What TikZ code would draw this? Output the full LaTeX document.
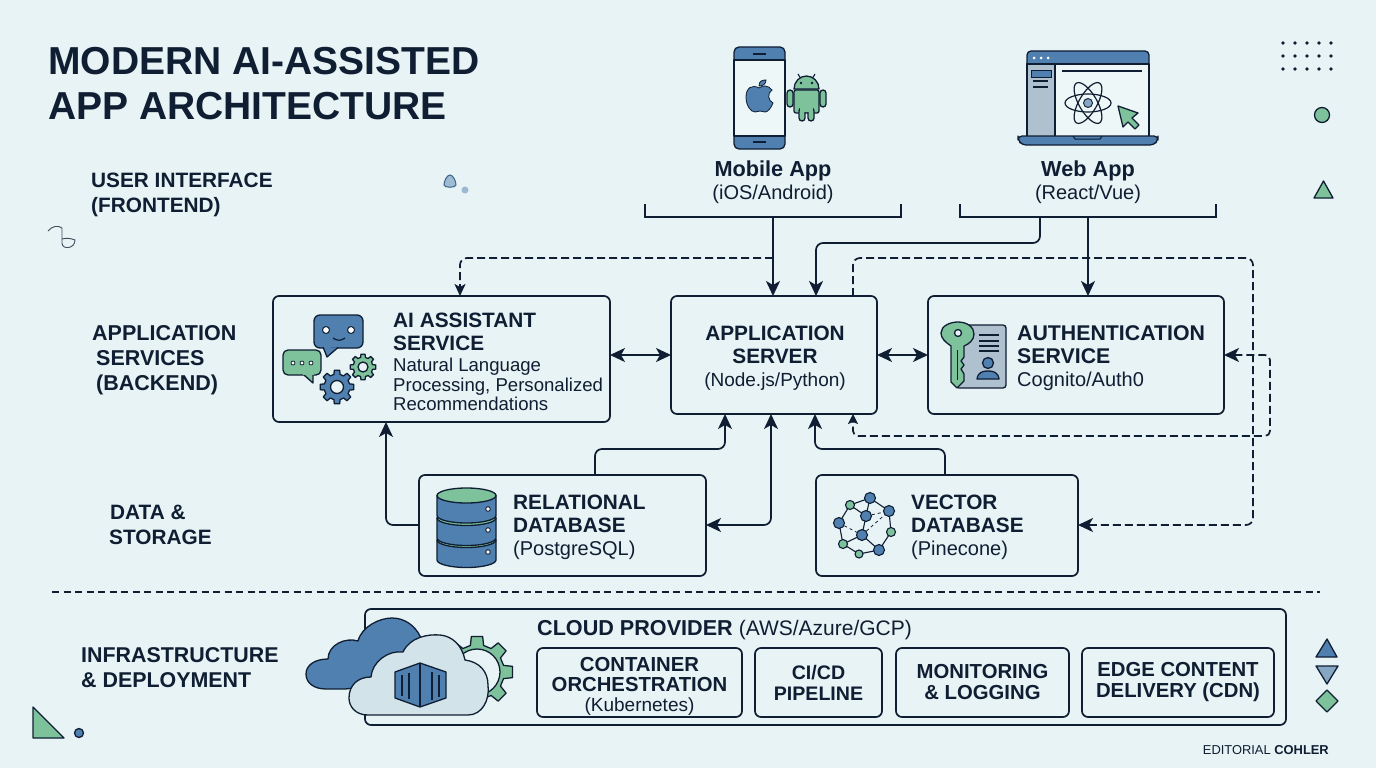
\documentclass[tikz,border=0pt]{standalone}
\usepackage{fontspec}
\setmainfont{Liberation Sans}
\usetikzlibrary{arrows.meta}

\definecolor{paper}{HTML}{E7F3F4}
\definecolor{navy}{HTML}{101E33}
\definecolor{iconblue}{HTML}{4F80B0}
\definecolor{icongreen}{HTML}{7DC29B}
\definecolor{iconpale}{HTML}{D3E3EA}
\definecolor{icongrey}{HTML}{AFC0CF}
\definecolor{iconmid}{HTML}{86A6C4}

\newcommand{\subline}[1]{{\fontsize{20}{22}\selectfont\mdseries #1}}

\tikzset{
  box/.style={draw=navy, line width=1.7pt, rounded corners=6pt, outer sep=0pt, inner sep=0pt, text=navy},
  head/.style={text=navy, inner sep=0pt, align=left, font=\fontsize{20.8}{24}\selectfont\bfseries},
  detail/.style={text=navy, inner sep=0pt, align=left, font=\fontsize{18.6}{19.5}\selectfont},
  subbox/.style={box, minimum height=69pt, align=center, font=\fontsize{20.3}{21}\selectfont\bfseries},
  client/.style={text=navy, inner sep=0pt, align=center, font=\fontsize{21.7}{24}\selectfont\bfseries},
  link/.style={draw=navy, line width=1.7pt, rounded corners=7pt, -{Stealth[length=15pt,width=14pt,inset=4pt]}},
  twoway/.style={link, {Stealth[length=15pt,width=14pt,inset=4pt]}-{Stealth[length=15pt,width=14pt,inset=4pt]}},
  dashlink/.style={link, dash pattern=on 8pt off 4pt},
  icon/.style={draw=navy, line width=1.3pt, line join=round}
}

\newcommand{\gearicon}[5]{
  \begin{scope}[shift={(#1,#2)}]
    \filldraw[icon, fill=#5] (-14:0.76*#3) \foreach \a in {0,45,...,315} {
      -- (\a-9:#3) -- (\a+9:#3) -- (\a+14:0.76*#3) -- (\a+31:0.76*#3)} -- cycle;
    \filldraw[icon, fill=paper] (0,0) circle (#4);
  \end{scope}
}

\begin{document}
\begin{tikzpicture}[x=1pt, y=-1pt]
\useasboundingbox (0,0) rectangle (1376,768);
\fill[paper] (0,0) rectangle (1376,768);

% title and layer names
\node[head, anchor=west, font=\fontsize{39}{45}\selectfont\bfseries] (title) at (48,84) {MODERN AI-ASSISTED\\APP ARCHITECTURE};
\node[head, anchor=west] (layerui) at (91,195) {USER INTERFACE\\[1pt](FRONTEND)};
\node[head, anchor=west, font=\fontsize{21.5}{24}\selectfont\bfseries] (layerapp) at (92,360) {APPLICATION\\[1pt]\hspace{4pt}SERVICES\\[1pt]\hspace{4pt}(BACKEND)};
\node[head, anchor=west] (layerdata) at (109,525) {\hspace{1pt}DATA \&\\[1pt]STORAGE};
\node[head, anchor=west, font=\fontsize{21.4}{24}\selectfont\bfseries] (layerinfra) at (81,668) {INFRASTRUCTURE\\[1pt]\& DEPLOYMENT};

% clients
\node[client] (mobile) at (773,182.5) {Mobile App\\[-1pt]\subline{(iOS/Android)}};
\node[client] (web) at (1088,182.5) {Web App\\[-1pt]\subline{(React/Vue)}};
\draw[navy, line width=1.5pt] (645,204) -- (645,217) -- coordinate[pos=0.5] (mobilebus) (901,217) -- (901,204);
\draw[navy, line width=1.5pt] (960,204) -- (960,217) -- coordinate[pos=0.5] (webbus) (1216,217) -- (1216,204);

% services
\node[box, minimum width=337pt, minimum height=126pt] (assistant) at (441.5,359) {};
\node[box, minimum width=206pt, minimum height=118pt] (appserver) at (774,355) {};
\node[box, minimum width=296pt, minimum height=118pt] (auth) at (1076,355) {};
\node[head, align=center] (appserverlabel) at (775,358) {APPLICATION\\[-1pt]SERVER\\[-1pt]{\fontsize{19}{20}\selectfont\mdseries (Node.js/Python)}};
\node[head, anchor=north west] (assistantlabel) at (393,313) {AI ASSISTANT\\[-1pt]SERVICE};
\node[detail, anchor=north west] (assistantdetail) at (393,358) {Natural Language\\Processing, Personalized\\Recommendations};
\node[head, anchor=west, font=\fontsize{21.3}{24}\selectfont\bfseries] (authlabel) at (1017,358) {AUTHENTICATION\\[-1pt]SERVICE\\[-1pt]\subline{Cognito/Auth0}};

% data
\node[box, minimum width=287pt, minimum height=101pt] (relational) at (562.5,525.5) {};
\node[box, minimum width=262pt, minimum height=101pt] (vector) at (947,525.5) {};
\node[head, anchor=west] (relationallabel) at (513,527) {RELATIONAL\\[-1pt]DATABASE\\[-1pt]\subline{(PostgreSQL)}};
\node[head, anchor=west] (vectorlabel) at (911,527) {VECTOR\\[-1pt]DATABASE\\[-1pt]\subline{(Pinecone)}};

% connector ends
\coordinate (dashstart) at (773,258);
\coordinate (assistanttop) at (460,296);
\coordinate (assistantright) at (610,355);
\coordinate (appleft) at (773,296);
\coordinate (appmid) at (816,296);
\coordinate (appdashtop) at (853,296);
\coordinate (webdrop) at (1040,217);
\coordinate (authtop) at (1088,296);
\coordinate (assistantbottom) at (386,422);
\coordinate (relleft) at (419,525);
\coordinate (reltop) at (595,475);
\coordinate (relright) at (706,525);
\coordinate (appbottoma) at (725,414);
\coordinate (appbottomb) at (771,414);
\coordinate (appbottomc) at (815,414);
\coordinate (appbottomd) at (853,414);
\coordinate (vectortop) at (945,475);
\coordinate (vectorright) at (1078,525);
\coordinate (authright) at (1224,355);

\draw[link] (mobilebus) -- (appleft);
\draw[link] (webdrop) |- (816,243) -- (appmid);
\draw[link] (webbus) -- (authtop);
\draw[dashlink, -{Stealth[length=12pt,width=11pt,inset=3pt]}] (dashstart) -| (assistanttop);
\draw[dashlink] (appdashtop) |- (1253,258) |- (vectorright);
\draw[dashlink, rounded corners=5pt, {Stealth[length=15pt,width=14pt,inset=4pt]}-{Stealth[length=10pt,width=10pt,inset=2pt]}] (authright) -- (1270,355) -- (1270,436) -- (853,436) -- (appbottomd);
\draw[twoway] (assistantright) -- (appserver.west);
\draw[twoway] (appserver.east) -- (auth.west);
\draw[link] (relleft) -| (assistantbottom);
\draw[link] (reltop) |- (725,449) -- (appbottoma);
\draw[twoway] (relright) -| (appbottomb);
\draw[link] (vectortop) |- (815,449) -- (appbottomc);

% divider
\draw[navy, line width=1.4pt, dash pattern=on 7pt off 4.5pt] (52,592) -- (1320,592);

% infrastructure
\node[box, minimum width=921pt, minimum height=116pt] (cloud) at (825.5,667) {};
\node[head, anchor=west, font=\fontsize{21.6}{24}\selectfont\bfseries] (cloudlabel) at (537,630) {CLOUD PROVIDER {\fontsize{21}{24}\selectfont\mdseries (AWS/Azure/GCP)}};
\node[subbox, minimum width=205pt] (orchestration) at (639.5,682.5) {};
\node[text=navy, inner sep=0pt, align=center, font=\fontsize{20.3}{20}\selectfont\bfseries] (orchestrationlabel) at (639.5,686) {CONTAINER\\ORCHESTRATION\\{\fontsize{19}{20}\selectfont\mdseries (Kubernetes)}};
\node[subbox, minimum width=127pt, font=\fontsize{19.6}{21}\selectfont\bfseries] (cicd) at (818.5,682.5) {CI/CD\\PIPELINE};
\node[subbox, minimum width=173pt] (monitoring) at (982.5,682.5) {MONITORING\\\& LOGGING};
\node[subbox, minimum width=192pt] (cdn) at (1178,682.5) {EDGE CONTENT\\DELIVERY (CDN)};

% phone
\filldraw[icon, fill=iconblue, rounded corners=5pt] (734,47) rectangle (785,149);
\filldraw[icon, fill=paper!70!white] (734,60) rectangle (785,136);
\draw[navy, line width=1.2pt] (753,54) -- (766,54) (753,142) -- (766,142);
\filldraw[draw=navy, line width=0.8pt, fill=iconblue] (759,88) .. controls (752,84) and (746,88) .. (746,97) .. controls (746,106) and (751,112) .. (755,112) .. controls (757,112) and (758,111) .. (760,111) .. controls (762,111) and (763,112) .. (765,112) .. controls (768,112) and (771,108) .. (773,103) .. controls (768,101) and (767,93) .. (772,90) .. controls (768,85) and (763,85) .. (759,88) -- cycle;
\filldraw[draw=navy, line width=0.8pt, fill=iconblue] (759,86) .. controls (759,81) and (762,80) .. (766,80) .. controls (766,84) and (763,86) .. (759,86) -- cycle;

% android
\draw[navy, line width=1.1pt] (801,79) -- (798,74) (812,79) -- (815,74);
\filldraw[icon, fill=icongreen] (794,89) arc (180:360:12.5 and 13) -- cycle;
\filldraw[icon, fill=icongreen, rounded corners=2pt] (794,90) rectangle (819,113);
\filldraw[icon, fill=icongreen, rounded corners=3pt] (787,90) rectangle (793,107);
\filldraw[icon, fill=icongreen, rounded corners=3pt] (820,90) rectangle (826,107);
\filldraw[icon, fill=icongreen, rounded corners=3pt] (799,108) rectangle (805,121);
\filldraw[icon, fill=icongreen, rounded corners=3pt] (808,108) rectangle (814,121);
\fill[icongreen] (800,106) rectangle (813,112);
\fill[navy] (801,83) circle (1.3) (812,83) circle (1.3);

% browser on a laptop
\filldraw[icon, fill=iconblue, rounded corners=4pt] (1027,51) rectangle (1149,80);
\filldraw[icon, fill=paper!70!white] (1027,64) rectangle (1149,137);
\filldraw[icon, fill=icongrey] (1027,64) rectangle (1055,137);
\fill[white] (1034,58) circle (1.5) (1041,58) circle (1.5) (1048,58) circle (1.5);
\filldraw[draw=navy, line width=0.6pt, fill=iconblue] (1031,70) rectangle (1051,77);
\draw[navy, line width=1.1pt] (1033,81) -- (1048,81) (1033,87) -- (1048,87) (1062,71) -- (1142,71);
\filldraw[icon, fill=iconblue, rounded corners=4pt] (1018,136) -- (1158,136) -- (1158,140) -- (1154,145) -- (1022,145) -- (1018,140) -- cycle;
\draw[navy, line width=1pt] (1073,136) -- (1075,139) -- (1100,139) -- (1102,136);
\draw[navy, line width=1.2pt] (1088,103) ellipse (23 and 9);
\draw[navy, line width=1.2pt, rotate around={60:(1088,103)}] (1088,103) ellipse (23 and 9);
\draw[navy, line width=1.2pt, rotate around={-60:(1088,103)}] (1088,103) ellipse (23 and 9);
\filldraw[draw=navy, line width=0.9pt, fill=iconmid] (1088,103) circle (4.5);
\filldraw[icon, fill=icongreen] (1118,106) -- (1138,113) -- (1132,118) -- (1139,125) -- (1135,129) -- (1128,122) -- (1123,127) -- cycle;

% chat icon
\filldraw[icon, fill=iconblue, rounded corners=6pt] (314,315) rectangle (363,348);
\filldraw[icon, fill=iconblue] (323,347) -- (327,357) -- (338,347.5);
\fill[iconblue] (322,345) rectangle (339,347.4);
\filldraw[draw=navy, line width=1pt, fill=white] (326,330) circle (3.5) (351,330) circle (3.5);
\draw[navy, line width=1.2pt] (333,338) .. controls (337,341) and (341,341) .. (345,338);
\filldraw[icon, fill=icongreen, rounded corners=5pt] (283,350) rectangle (321,375);
\filldraw[icon, fill=icongreen] (304,375) -- (313,383) -- (313,375);
\fill[icongreen] (303,373) rectangle (314,375);
\filldraw[draw=navy, line width=0.8pt, fill=white] (293,363) circle (2) (302,363) circle (2) (311,363) circle (2);
\gearicon{337}{387}{17}{6.5}{iconblue}
\gearicon{363}{367}{13}{5}{icongreen}

% key and badge
\filldraw[icon, fill=icongrey, rounded corners=3pt] (956,325) rectangle (1006,388);
\draw[navy, line width=1.1pt] (979,335) -- (999,335) (979,341) -- (999,341) (979,346) -- (999,346) (979,351) -- (999,351);
\filldraw[icon, fill=iconblue] (988,363) circle (5.5);
\filldraw[icon, fill=iconblue] (977,379) .. controls (978,372) and (983,371) .. (988,371) .. controls (993,371) and (998,372) .. (999,379) -- cycle;
\filldraw[icon, fill=icongreen] (951,346) .. controls (945,342) and (941,338) .. (941,333) .. controls (941,326) and (950,322) .. (958,322) .. controls (967,322) and (974,327) .. (974,334) .. controls (974,340) and (969,344) .. (964,346) -- (964,357) -- (961,361) -- (964,365) -- (961,369) -- (964,374) -- (964,381) -- (957,388) -- (951,382) -- cycle;
\filldraw[icon, fill=paper] (958,333) circle (3.5);
\draw[navy, line width=1pt] (957,350) -- (957,380);

% database icon
\foreach \y in {540,518,495.5} {
  \filldraw[icon, fill=iconblue] (437,\y) -- (437,\y+20) arc (180:0:29.5 and 7.5) -- (496,\y) -- cycle;
  \filldraw[icon, fill=icongreen] (466.5,\y) ellipse (29.5 and 7.5);
}
\filldraw[draw=navy, line width=0.9pt, fill=white] (488,509) circle (2.3) (488,530) circle (2.3) (488,552) circle (2.3);

% graph icon
\foreach \name/\x/\y in {ga/870/498, gb/850/505, gc/889/511, gd/866/516, ge/839/523, gf/862/535, gg/891/532, gh/843/544, gi/859/554, gj/879/550}
  \coordinate (\name) at (\x,\y);
\draw[navy, line width=1.1pt] (gb) -- (ga) -- (gc) -- (gg) -- (gj) -- (gi) -- (gh) -- (ge) -- (gb) -- (gd) -- (ga) (gd) -- (gf) -- (gj) (gf) -- (gh);
\draw[navy, line width=0.8pt, dashed] (gf) -- (gc) (gd) -- (gc) (ge) -- (gf);
\foreach \name/\r/\c in {ga/5.5/iconblue, gb/4.5/icongreen, gc/5.5/iconblue, gd/5.5/iconblue, ge/5.5/iconblue, gf/5.5/iconblue, gg/4.5/icongreen, gh/4.5/icongreen, gi/4/icongreen, gj/5.5/iconblue}
  \filldraw[draw=navy, line width=1.1pt, fill=\c] (\name) circle (\r);

% clouds
\gearicon{477}{672}{36}{23}{icongreen}
\filldraw[icon, fill=iconblue] (345,689) -- (326,689) .. controls (314,689) and (306,683) .. (306,674) .. controls (306,665) and (315,659) .. (328,659) .. controls (328,645) and (345,637) .. (358,641) .. controls (362,626) and (380,618) .. (392,618) .. controls (405,618) and (415,626) .. (420,636) -- (430,680) -- cycle;
\filldraw[icon, fill=iconpale] (368,715) .. controls (355,715) and (349,706) .. (349,698) .. controls (349,685) and (358,677) .. (371,677) .. controls (372,662) and (388,650) .. (403,652) .. controls (410,637) and (428,634) .. (440,635) .. controls (452,636) and (462,645) .. (465,660) .. controls (480,662) and (488,672) .. (488,685) .. controls (490,700) and (482,715) .. (468,715) -- cycle;
\filldraw[icon, fill=iconblue] (420,663) -- (446,672) -- (446,698) -- (420,707) -- (395,698) -- (395,672) -- cycle;
\draw[navy, line width=1.1pt] (420,663) -- (420,707) (402,675) -- (402,696) (409,673) -- (409,699) (432,672) -- (432,700) (439,675) -- (439,697);

% small marks
\foreach \x in {1283,1295,1307,1319,1331}
  \foreach \y in {43,56,69}
    \fill[navy] (\x,\y) circle (1.9);
\filldraw[icon, fill=icongreen] (1322,115) circle (7.5);
\filldraw[icon, fill=icongreen] (1323.5,181) -- (1333,198) -- (1314,198) -- cycle;
\filldraw[icon, fill=iconblue] (1327,639) -- (1337,657) -- (1316,657) -- cycle;
\filldraw[icon, fill=iconmid] (1316,666) -- (1338,666) -- (1327,684) -- cycle;
\filldraw[icon, fill=icongreen] (1327,690) -- (1338,701) -- (1327,712) -- (1316,701) -- cycle;
\filldraw[draw=iconblue!70!navy, line width=1pt, fill=iconpale!60!iconblue] (450,175) .. controls (453,175) and (456,181) .. (456,185) .. controls (456,188) and (444,188) .. (444,185) .. controls (444,181) and (447,175) .. (450,175) -- cycle;
\fill[iconmid!80!white] (465,190) circle (3.5);
\draw[navy!80, line width=0.9pt] (48,231) .. controls (52,226) and (58,225) .. (62,228) -- (62,243) .. controls (62,250) and (75,249) .. (75,240) .. controls (70,238) and (66,238) .. (62,239);
\filldraw[icon, fill=icongreen] (33,707) -- (64,738) -- (33,738) -- cycle;
\filldraw[icon, fill=iconblue] (79,733) circle (4.5);
\node[text=navy, inner sep=0pt, anchor=east, font=\fontsize{12.9}{14}\selectfont] (credit) at (1329,750) {EDITORIAL \textbf{COHLER}};
\end{tikzpicture}
\end{document}
